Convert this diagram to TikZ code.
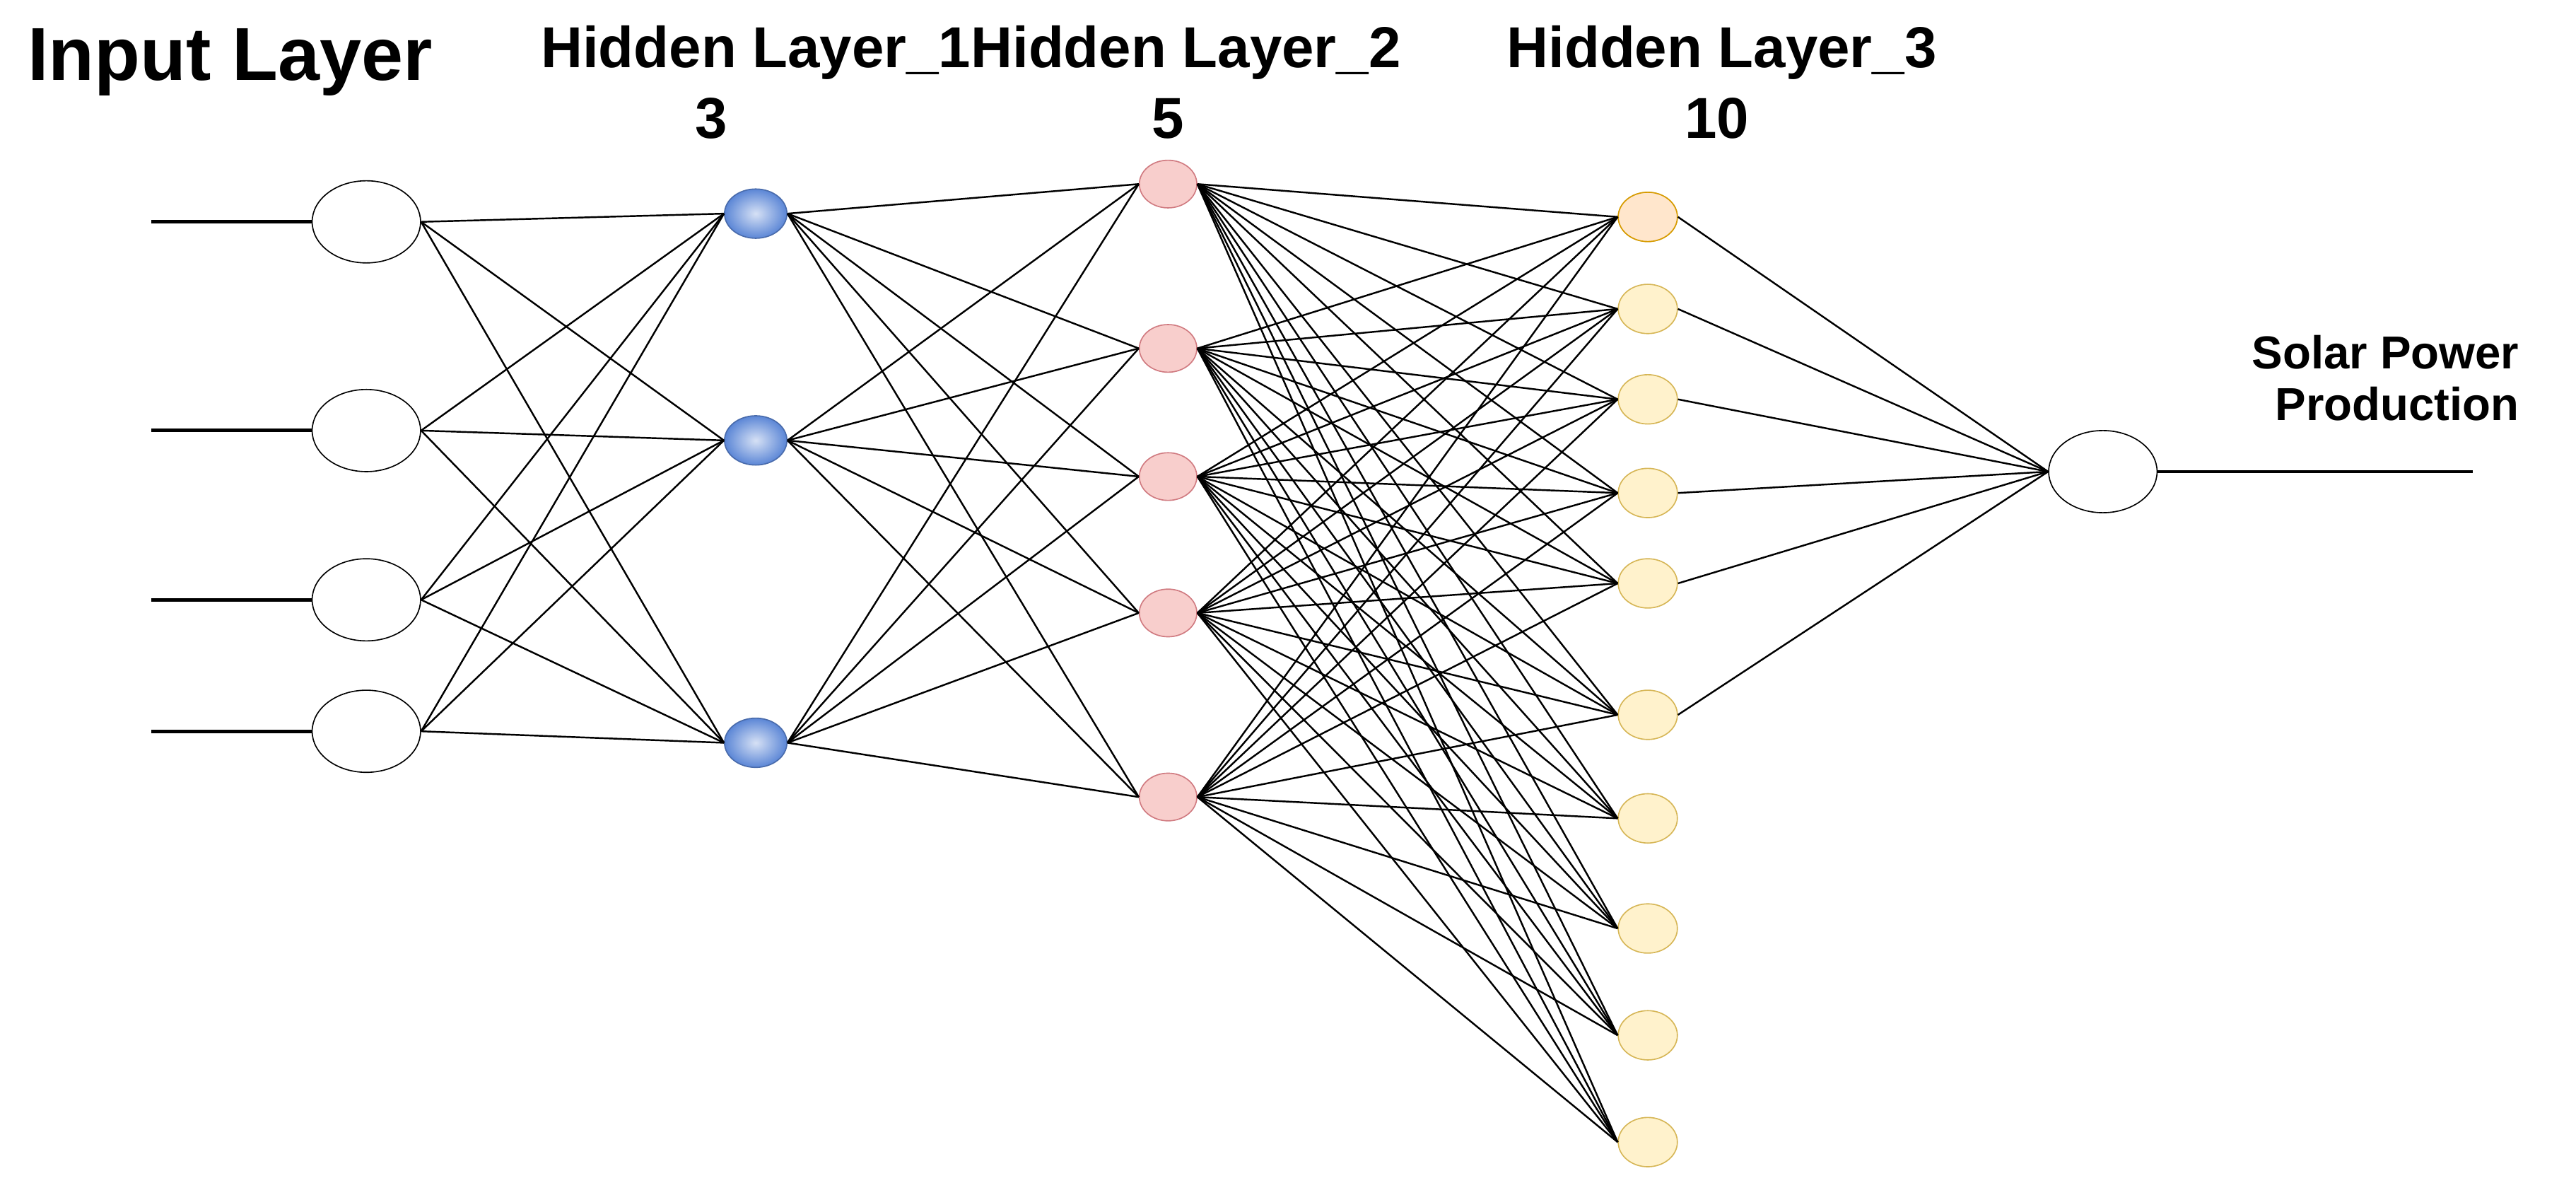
\documentclass[tikz,border=0pt]{standalone}
\usepackage{fontspec}
\setmainfont{Liberation Sans}
\usetikzlibrary{shapes.geometric}
\definecolor{hblue}{HTML}{5B86D6}
\definecolor{hpink}{HTML}{F8CECC}
\definecolor{hpinkdraw}{HTML}{D07A80}
\definecolor{hyellow}{HTML}{FFF2CC}
\definecolor{hyellowdraw}{HTML}{D6B656}
\definecolor{horange}{HTML}{FFE6CC}
\definecolor{horangedraw}{HTML}{D79B00}
\tikzset{
  inp/.style={draw, ellipse, minimum width=1.32cm, minimum height=1cm, inner sep=0pt},
  hone/.style={draw=hblue!80!black, ellipse, minimum width=0.76cm, minimum height=0.6cm, inner sep=0pt, inner color=hblue!25, outer color=hblue},
  htwo/.style={draw=hpinkdraw, fill=hpink, ellipse, minimum width=0.7cm, minimum height=0.58cm, inner sep=0pt},
  hthree/.style={draw=hyellowdraw, fill=hyellow, ellipse, minimum width=0.72cm, minimum height=0.6cm, inner sep=0pt},
  lbl/.style={font=\bfseries\fontsize{20}{22}\selectfont},
  wire/.style={line width=0.6pt}
}
\begin{document}
\begin{tikzpicture}[x=0.02cm, y=-0.02cm]
    \useasboundingbox (0,0) rectangle (1568,727);
    % layers
    \foreach \i/\y in {1/135, 2/262, 3/365, 4/445}
        \node[inp] (in\i) at (223,\y) {};
    \foreach \i/\y in {1/130, 2/268, 3/452}
        \node[hone] (ha\i) at (460,\y) {};
    \foreach \i/\y in {1/112, 2/212, 3/290, 4/373, 5/485}
        \node[htwo] (hb\i) at (711,\y) {};
    \foreach \i/\y in {1/132, 2/188, 3/243, 4/300, 5/355, 6/435, 7/498, 8/565, 9/630, 10/695}
        \node[hthree] (hc\i) at (1003,\y) {};
    \node[hthree, draw=horangedraw, fill=horange] at (hc1) {};
    \node[inp] (out) at (1280,287) {};

    % free ends
    \foreach \i in {1,...,4}
        \coordinate (src\i) at (92,0 |- in\i);
    \coordinate (sink) at (1505,0 |- out);

    % labels
    \node[font=\bfseries\fontsize{26}{30}\selectfont] (tin) at (140,38) {Input Layer};
    \node[lbl] (ta) at (591,32) {Hidden Layer\_1Hidden Layer\_2};
    \node[lbl] (na) at (433,72) {3};
    \node[lbl] (nb) at (711,72) {5};
    \node[lbl] (tc) at (1048,32) {Hidden Layer\_3};
    \node[lbl] (nc) at (1045,72) {10};
    \node[font=\bfseries\fontsize{16}{18}\selectfont, align=right] (tout) at (1452,230) {Solar Power\\Production};

    % connections
    \foreach \i in {1,...,4} {
        \draw[line width=1.2pt] (src\i) -- (in\i.west);
        \foreach \j in {1,...,3}
            \draw[wire] (in\i.east) -- (ha\j.west);
    }
    \foreach \i in {1,...,3}
        \foreach \j in {1,...,5}
            \draw[wire] (ha\i.east) -- (hb\j.west);
    \foreach \i in {1,...,5}
        \foreach \j in {1,...,10}
            \draw[wire] (hb\i.east) -- (hc\j.west);
    \foreach \j in {1,...,6}
        \draw[wire] (hc\j.east) -- (out.west);
    \draw[line width=1.2pt] (out.east) -- (sink);
\end{tikzpicture}
\end{document}
